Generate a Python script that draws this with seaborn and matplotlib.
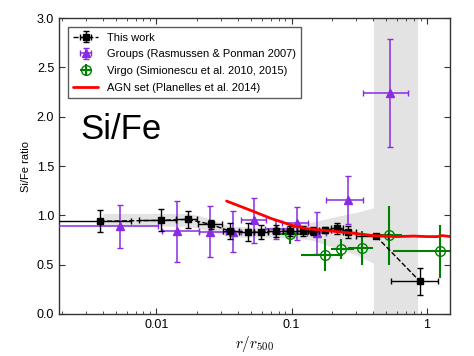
import numpy as np
import pandas as pd
import matplotlib
matplotlib.use("Agg")
import matplotlib.pyplot as plt
import seaborn as sns

# This work (black squares)
work_r = [0.0038, 0.0108, 0.0171, 0.0251, 0.035, 0.0476, 0.0596, 0.0763, 0.098, 0.122, 0.145, 0.177, 0.217, 0.263, 0.42, 0.89]
work_lo = [0.0005, 0.0074, 0.014, 0.0202, 0.031, 0.041, 0.053, 0.067, 0.087, 0.110, 0.133, 0.160, 0.196, 0.238, 0.30, 0.54]
work_hi = [0.0065, 0.014, 0.0198, 0.0303, 0.041, 0.053, 0.067, 0.087, 0.110, 0.133, 0.160, 0.196, 0.238, 0.30, 0.52, 1.2]
work_val = [0.94, 0.95, 0.96, 0.91, 0.84, 0.83, 0.83, 0.84, 0.84, 0.84, 0.84, 0.85, 0.87, 0.83, 0.79, 0.33]
work_err = [0.11, 0.11, 0.085, 0.045, 0.08, 0.09, 0.07, 0.06, 0.05, 0.05, 0.04, 0.03, 0.055, 0.06, 0.02, 0.135]

# Groups (Rasmussen & Ponman 2007)
grp_r = [0.0054, 0.0142, 0.025, 0.037, 0.053, 0.076, 0.109, 0.155, 0.263, 0.533]
grp_lo = [0.0015, 0.011, 0.0205, 0.0325, 0.0425, 0.064, 0.085, 0.13, 0.18, 0.339]
grp_hi = [0.0103, 0.0205, 0.0325, 0.042, 0.0645, 0.092, 0.131, 0.18, 0.34, 0.72]
grp_val = [0.89, 0.84, 0.835, 0.835, 0.95, 0.86, 0.92, 0.82, 1.155, 2.24]
grp_err = [0.22, 0.31, 0.26, 0.21, 0.23, 0.095, 0.17, 0.21, 0.245, 0.55]

# Virgo (Simionescu et al. 2010, 2015)
vir_r = [0.098, 0.175, 0.232, 0.329, 0.525, 1.256]
vir_lo = [0.08, 0.118, 0.196, 0.26, 0.385, 0.565]
vir_hi = [0.12, 0.239, 0.29, 0.40, 0.66, 2.0]
vir_val = [0.81, 0.60, 0.66, 0.67, 0.80, 0.635]
vir_err = [0.105, 0.16, 0.10, 0.17, 0.30, 0.27]

# AGN set (Planelles et al. 2014)
agn_r = [0.033, 0.05, 0.07, 0.1, 0.13, 0.2, 0.3, 0.4, 0.6, 0.8, 1.0, 1.2, 1.3, 1.5]
agn_val = [1.145, 1.05, 0.97, 0.90, 0.865, 0.84, 0.815, 0.795, 0.785, 0.79, 0.785, 0.785, 0.795, 0.785]

# uncertainty envelope of this work
band_r = [0.004, 0.017, 0.022, 0.035, 0.06, 0.1, 0.14, 0.2, 0.3, 0.41]
band_up = [1.02, 1.02, 0.99, 0.89, 0.88, 0.89, 0.93, 0.98, 1.03, 1.08]
band_dn = [0.89, 0.89, 0.86, 0.78, 0.78, 0.77, 0.75, 0.68, 0.60, 0.51]
vband = [0.41, 0.86]

sns.set_style("ticks")
plt.rcParams['font.family'] = ['Liberation Sans', 'DejaVu Sans']
plt.rcParams['mathtext.fontset'] = 'cm'
plt.rcParams['text.color'] = 'black'
plt.rcParams['axes.labelcolor'] = 'black'
plt.rcParams['xtick.color'] = 'black'
plt.rcParams['ytick.color'] = 'black'

fig = plt.figure(figsize=(4.74, 3.56), dpi=100)
ax = fig.add_axes([0.1245, 0.118, 0.8245, 0.831])

ax.axvspan(vband[0], vband[1], color='#e3e3e3', lw=0, zorder=0)
ax.fill_between(band_r, band_dn, band_up, color='#e3e3e3', lw=0, zorder=0)


def xerr(r, lo, hi):
    r = np.array(r)
    return [r - np.array(lo), np.array(hi) - r]


ax.errorbar(work_r, work_val, yerr=work_err, xerr=xerr(work_r, work_lo, work_hi),
            fmt='s--', color='black', ms=4.5, lw=1, elinewidth=1, capsize=2,
            label='This work', zorder=4)
ax.errorbar(grp_r, grp_val, yerr=grp_err, xerr=xerr(grp_r, grp_lo, grp_hi),
            fmt='^', color='#8a2be2', ms=6, elinewidth=1.1, capsize=2,
            label='Groups (Rasmussen & Ponman 2007)', zorder=3)
ax.errorbar(vir_r, vir_val, yerr=vir_err, xerr=xerr(vir_r, vir_lo, vir_hi),
            fmt='o', color='green', mfc='none', ms=7, elinewidth=1.5, capsize=0,
            label='Virgo (Simionescu et al. 2010, 2015)', zorder=3)
agn = pd.DataFrame({'r': agn_r, 'ratio': agn_val})
sns.lineplot(data=agn, x='r', y='ratio', color='red', lw=2, ax=ax,
             label='AGN set (Planelles et al. 2014)', zorder=5)

ax.set_xscale('log')
ax.set_xlim(0.0019, 1.48)
ax.set_ylim(0, 3.0)
ax.set_yticks(np.arange(0, 3.01, 0.5))
ax.set_xticks([0.01, 0.1, 1])
ax.set_xticklabels(['0.01', '0.1', '1'])
ax.tick_params(which='both', direction='in', top=True, right=True, labelsize=9,
               color='#333333', labelcolor='black')
ax.tick_params(which='major', length=4)
ax.tick_params(which='minor', length=2)
for s in ax.spines.values():
    s.set_color('#333333')
    s.set_linewidth(1)

ax.set_xlabel(r'$r/r_{500}$', fontsize=11, labelpad=2)
ax.set_ylabel('Si/Fe ratio', fontsize=8)
ax.text(0.055, 0.59, 'Si/Fe', transform=ax.transAxes, fontsize=25, color='black')

handles, labels = ax.get_legend_handles_labels()
order = [labels.index(l) for l in ['This work', 'Groups (Rasmussen & Ponman 2007)',
                                   'Virgo (Simionescu et al. 2010, 2015)',
                                   'AGN set (Planelles et al. 2014)']]
leg = ax.legend([handles[i] for i in order], [labels[i] for i in order],
                loc='upper left', fontsize=8, frameon=True, fancybox=False,
                borderaxespad=0.8, handlelength=2.2, labelspacing=0.6,
                borderpad=0.5)
leg.get_frame().set_edgecolor('#333333')
leg.get_frame().set_linewidth(1)
for t in leg.get_texts():
    t.set_color('black')

fig.savefig('out.png', dpi=100)
